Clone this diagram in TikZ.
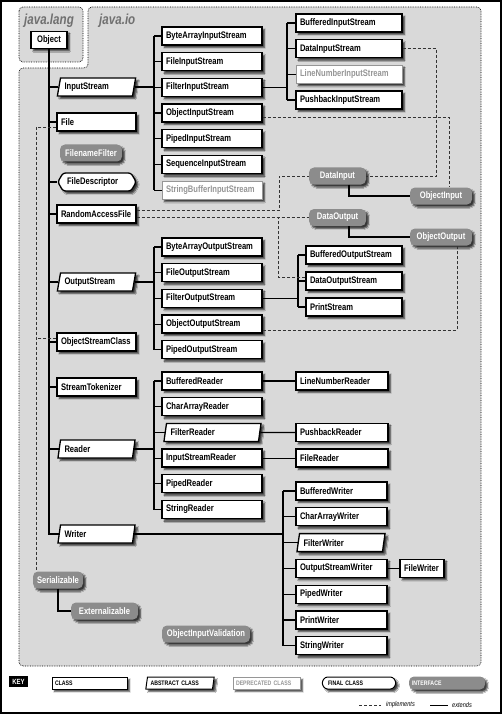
\documentclass[tikz,border=0pt]{standalone}
\usepackage{fontspec}
\setmainfont{Liberation Sans}
\newfontfamily\lblfam{Liberation Sans}[FakeStretch=0.8]
\usetikzlibrary{shapes.geometric,shapes.symbols,shadows.blur}
\newcommand\lbl{\lblfam\bfseries\fontsize{9.5}{10}\selectfont}
\newcommand\keyf{\lblfam\bfseries\fontsize{6.5}{7}\selectfont}
\newcommand\keyb{\lblfam\bfseries\fontsize{7.5}{8}\selectfont}
\newcommand\legf{\lblfam\itshape\fontsize{7}{8}\selectfont}
\newcommand\titf{\lblfam\bfseries\itshape\fontsize{14.5}{16}\selectfont}
\definecolor{bgc}{RGB}{217,217,217}
\definecolor{ifcc}{RGB}{140,140,140}
\definecolor{depc}{RGB}{150,150,150}
\definecolor{titc}{RGB}{112,112,112}
\tikzset{
  sh/.style={blur shadow={shadow xshift=2.5pt, shadow yshift=-2.5pt, shadow blur radius=1.3pt, shadow blur steps=6, shadow opacity=75}},
  nb/.style={font=\lbl, inner xsep=4pt, inner ysep=0pt, minimum height=18pt, line width=1.3pt, draw=black, fill=white, sh},
  cls/.style={nb, rectangle, text width=#1, align=left},
  abs/.style={nb, trapezium, trapezium left angle=70, trapezium right angle=110, trapezium stretches body, text width=#1, align=left},
  fin/.style={nb, signal, signal to=east and west, signal pointer angle=120, rounded corners=2.5pt, text width=#1, align=left},
  dep/.style={cls=#1, draw=depc, text=depc, line width=1pt},
  ifc/.style={font=\lbl, text=white, fill=ifcc, rounded corners=5pt, minimum height=17pt, minimum width=#1, inner sep=0pt, sh},
  kk/.style={font=\keyf, minimum height=12pt, line width=1pt, inner xsep=3pt},
  ext/.style={line width=1.2pt, black},
  impl/.style={line width=0.8pt, black!80, dash pattern=on 3pt off 2pt},
  pkg/.style={fill=bgc, draw=black, line width=0.7pt, densely dotted, rounded corners=4pt},
  title/.style={font=\titf, text=titc, inner sep=0pt},
  leg/.style={font=\legf, inner sep=0pt},
}
\begin{document}
\begin{tikzpicture}[x=1pt,y=-1pt]
\path[use as bounding box] (0,0) rectangle (502,714);
\fill[white] (0,0) rectangle (502,714);
\draw[line width=1.5pt] (1,1) rectangle (501,713);
\path[pkg] (19,7) rectangle (83,62);
\path[pkg] (88,7) -- (481,7) -- (481,666) -- (19,666) -- (19,68) -- (88,68) -- cycle;

\node[title, anchor=base west] (tlang) at (24,25) {java.lang};
\node[title, anchor=base west] (tio) at (99,25) {java.io};

\node[nb, rectangle, minimum width=36pt, minimum height=17pt, inner xsep=0pt] (Object) at (49,40) {Object};

% left column
\node[abs=64pt] (InputStream) at (96.5,87) {InputStream};
\node[cls=71pt] (File) at (96.5,122) {File};
\node[ifc=62pt] (FilenameFilter) at (91,153) {FilenameFilter};
\node[fin=60pt] (FileDescriptor) at (97,182) {FileDescriptor};
\node[cls=71pt] (RAF) at (96.5,214) {RandomAccessFile};
\node[abs=64pt] (OutputStream) at (96.5,282) {OutputStream};
\node[cls=71pt] (OSC) at (96.5,342) {ObjectStreamClass};
\node[cls=71pt] (StreamTokenizer) at (96.5,387) {StreamTokenizer};
\node[abs=64pt] (Reader) at (96.5,449) {Reader};
\node[abs=64pt] (Writer) at (96.5,534) {Writer};
\node[ifc=50pt] (Serializable) at (58,580) {Serializable};
\node[ifc=67pt] (Externalizable) at (104.5,611) {Externalizable};
\node[ifc=88pt] (OIV) at (206,634) {ObjectInputValidation};

% column 2: input streams
\node[cls=92pt] (BAIS) at (212,36) {ByteArrayInputStream};
\node[cls=92pt] (FIS) at (212,61.7) {FileInputStream};
\node[cls=92pt] (FilIS) at (212,87.4) {FilterInputStream};
\node[cls=92pt] (OIS) at (212,113.1) {ObjectInputStream};
\node[cls=92pt] (PIS) at (212,138.8) {PipedInputStream};
\node[cls=92pt] (SIS) at (212,164.5) {SequenceInputStream};
\node[dep=92pt] (SBIS) at (212,190.2) {StringBufferInputStream};

% column 3: filter input streams
\node[cls=98pt] (BIS) at (349,23) {BufferedInputStream};
\node[cls=98pt] (DIS) at (349,48.7) {DataInputStream};
\node[dep=98pt] (LNIS) at (349,74.4) {LineNumberInputStream};
\node[cls=98pt] (PBIS) at (349,100) {PushbackInputStream};

% interfaces data
\node[ifc=57pt] (DataInput) at (337.5,176) {DataInput};
\node[ifc=62pt] (ObjectInput) at (441,196) {ObjectInput};
\node[ifc=57pt] (DataOutput) at (337.5,217.5) {DataOutput};
\node[ifc=62pt] (ObjectOutput) at (441,237) {ObjectOutput};

% column 2: output streams
\node[cls=92pt] (BAOS) at (212,247) {ByteArrayOutputStream};
\node[cls=92pt] (FOS) at (212,272.7) {FileOutputStream};
\node[cls=92pt] (FilOS) at (212,298.4) {FilterOutputStream};
\node[cls=92pt] (OOS) at (212,324.1) {ObjectOutputStream};
\node[cls=92pt] (POS) at (212,349.8) {PipedOutputStream};

% column 3: filter output streams
\node[cls=88pt] (BOS) at (354,255) {BufferedOutputStream};
\node[cls=88pt] (DOS) at (354,281) {DataOutputStream};
\node[cls=88pt] (PS) at (354,307) {PrintStream};

% readers
\node[cls=92pt] (BR) at (212,381) {BufferedReader};
\node[cls=92pt] (CAR) at (212,406.7) {CharArrayReader};
\node[abs=84pt] (FilR) at (212.5,432.4) {FilterReader};
\node[cls=92pt] (ISR) at (212,458.1) {InputStreamReader};
\node[cls=92pt] (PR) at (212,483.8) {PipedReader};
\node[cls=92pt] (SR) at (212,509.5) {StringReader};
\node[cls=84pt] (LNR) at (342,381) {LineNumberReader};
\node[cls=84pt] (PBR) at (342,432.4) {PushbackReader};
\node[cls=84pt] (FR) at (342,458.1) {FileReader};

% writers
\node[cls=83pt] (BW) at (341.5,491) {BufferedWriter};
\node[cls=83pt] (CAW) at (341.5,516.8) {CharArrayWriter};
\node[abs=75pt] (FilW) at (341,542.6) {FilterWriter};
\node[cls=83pt] (OSW) at (341.5,568.4) {OutputStreamWriter};
\node[cls=83pt] (PW) at (341.5,594.2) {PipedWriter};
\node[cls=83pt] (PrW) at (341.5,620) {PrintWriter};
\node[cls=83pt] (SW) at (341.5,645.8) {StringWriter};
\node[cls=36pt] (FW) at (422,568.4) {FileWriter};

% key
\node[fill=black, text=white, font=\keyb, minimum width=19pt, minimum height=11pt, inner sep=0pt] (kkey) at (18.5,681.5) {KEY};
\node[cls=69pt, kk] (kclass) at (89.5,683) {CLASS};
\node[abs=59pt, kk] (kabs) at (180,683) {ABSTRACT CLASS};
\node[dep=61pt, kk] (kdep) at (266.5,683) {DEPRECATED CLASS};
\node[fin=62pt, kk] (kfin) at (359,683) {FINAL CLASS};
\node[ifc=76pt, font=\keyf, minimum height=13pt, text width=70pt, align=left] (kifc) at (447,683) {INTERFACE};
\coordinate (li1) at (359,705); \coordinate (li2) at (381,705);
\node[leg, anchor=west] (limpl) at (386,705) {implements};
\coordinate (le1) at (430,705); \coordinate (le2) at (448,705);
\node[leg, anchor=west] (lext) at (452,705) {extends};

% extends connectors
\draw[ext] (Object.south) -- (Writer.west -| Object.south) -- (Writer.west);
\foreach \n in {InputStream,File,FileDescriptor,RAF,OutputStream,OSC,StreamTokenizer,Reader}
  \draw[ext] (\n.west -| Object.south) -- (\n.west);
\coordinate (b1) at (154,0);
\coordinate (b2) at (287,0);
\coordinate (b3) at (298,0);
\coordinate (b4) at (283,0);
\draw[ext] (InputStream.east) -- (InputStream.east -| b1);
\draw[ext] (BAIS.west -| b1) -- (SBIS.west -| b1);
\foreach \n in {BAIS,FIS,FilIS,OIS,PIS,SIS,SBIS} \draw[ext] (\n.west -| b1) -- (\n.west);
\draw[ext] (FilIS.east) -- (FilIS.east -| b2);
\draw[ext] (BIS.west -| b2) -- (PBIS.west -| b2);
\foreach \n in {BIS,DIS,LNIS,PBIS} \draw[ext] (\n.west -| b2) -- (\n.west);
\draw[ext] (OutputStream.east) -- (OutputStream.east -| b1);
\draw[ext] (BAOS.west -| b1) -- (POS.west -| b1);
\foreach \n in {BAOS,FOS,FilOS,OOS,POS} \draw[ext] (\n.west -| b1) -- (\n.west);
\draw[ext] (FilOS.east) -- (FilOS.east -| b3);
\draw[ext] (BOS.west -| b3) -- (PS.west -| b3);
\foreach \n in {BOS,DOS,PS} \draw[ext] (\n.west -| b3) -- (\n.west);
\draw[ext] (Reader.east) -- (Reader.east -| b1);
\draw[ext] (BR.west -| b1) -- (SR.west -| b1);
\foreach \n in {BR,CAR,FilR,ISR,PR,SR} \draw[ext] (\n.west -| b1) -- (\n.west);
\draw[ext] (BR.east) -- (LNR.west);
\draw[ext] (FilR.east) -- (PBR.west);
\draw[ext] (ISR.east) -- (FR.west);
\draw[ext] (Writer.east) -- (Writer.east -| b4);
\draw[ext] (BW.west -| b4) -- (SW.west -| b4);
\foreach \n in {BW,CAW,FilW,OSW,PW,PrW,SW} \draw[ext] (\n.west -| b4) -- (\n.west);
\draw[ext] (OSW.east) -- (FW.west);
\draw[ext] ([xshift=11.5pt]DataInput.south) |- (ObjectInput.west);
\draw[ext] ([xshift=11.5pt]DataOutput.south) |- (ObjectOutput.west);
\draw[ext] (Serializable.south) |- (Externalizable.west);
% implements connectors
\coordinate (serx) at ([xshift=-22pt]Serializable.north);
\draw[impl] (DIS.east) -- ++(34,0) |- (DataInput.east);
\draw[impl] ([yshift=-4.5pt]OIS.east) -| ([xshift=8pt]ObjectInput.north);
\draw[impl] ([yshift=3.5pt]RAF.east) -- ++(142.5,0) |- (DataInput.west);
\draw[impl] ([yshift=-3.5pt]RAF.east) -- (DataOutput.west);
\draw[impl] ([yshift=4pt]DOS.west) -- ++(-27,0) |- (DataOutput.west);
\draw[impl] ([yshift=-6pt]OOS.east) -| ([xshift=16pt]ObjectOutput.south);
\draw[impl] ([yshift=-5pt]File.west) -| (serx);
\draw[impl] ([yshift=4pt]OSC.west) -- ([yshift=4pt]OSC.west -| serx);
% legend
\draw[impl] (li1) -- (li2);
\draw[ext, line width=0.8pt] (le1) -- (le2);
\end{tikzpicture}
\end{document}
